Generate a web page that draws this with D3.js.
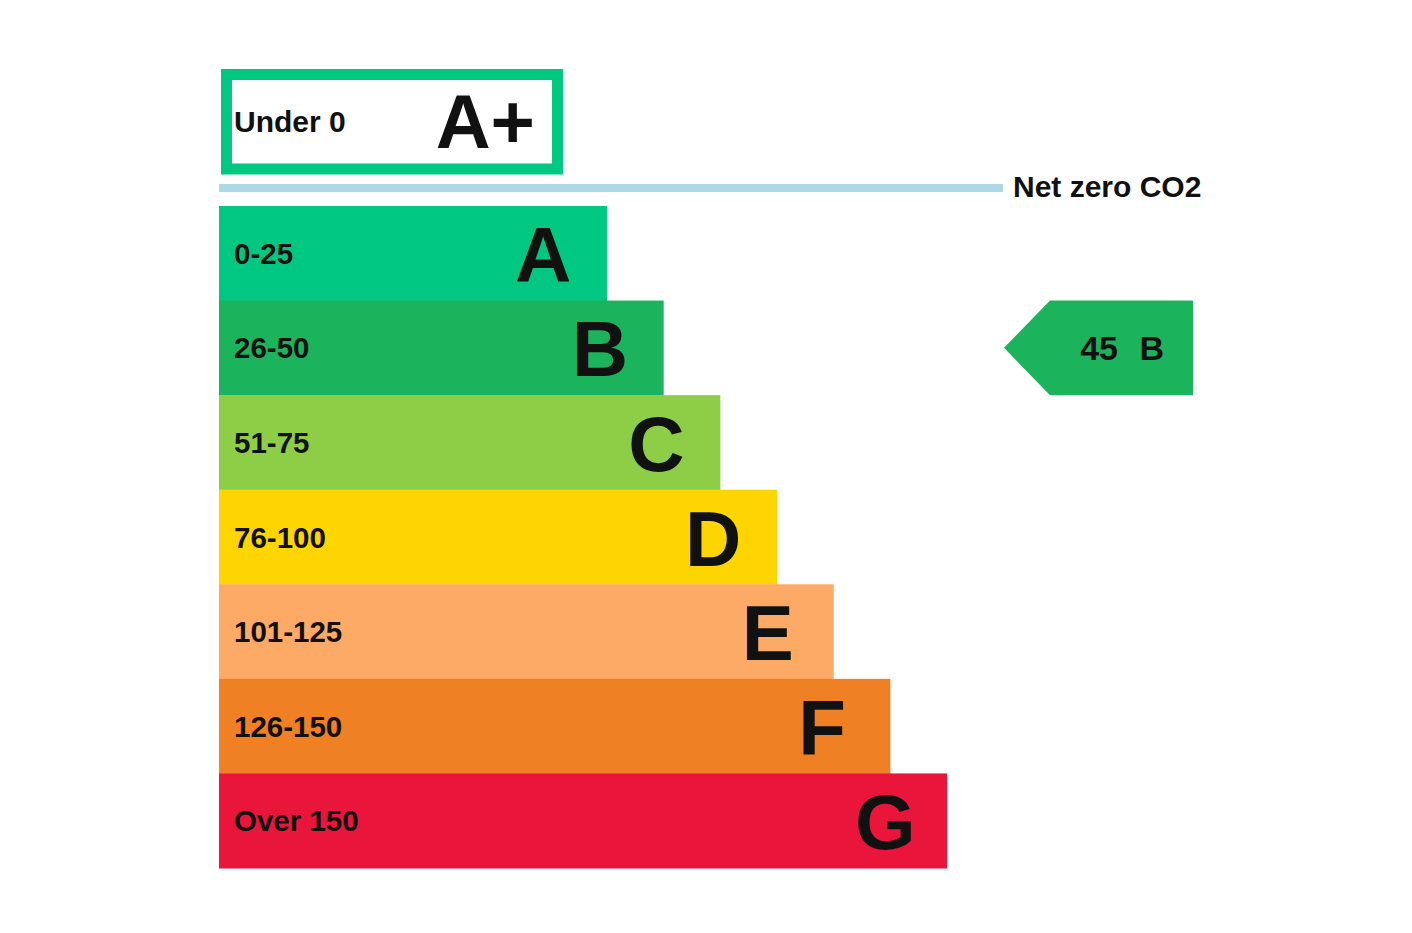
<html>
<head>
<title>EPC rating</title>
<script src="https://d3js.org/d3.v7.min.js"></script>
<style>
    body { margin: 0; background: #fff; }
    text { font-family: "Liberation Sans", Arial, sans-serif; font-weight: bold; fill: #111; }
</style>
</head>
<body>
<div id="chart"></div>
<script type="text/javascript">
    // Data ***********************
    var bands = ["A", "B", "C", "D", "E", "F", "G"];
    var ranges = ["0-25", "26-50", "51-75", "76-100", "101-125", "126-150", "Over 150"];
    var colours = ["#00c781", "#1bb35b", "#8dce46", "#ffd500", "#fcaa65", "#ef8023", "#e9153b"];
    var topBand = "A+";
    var topRange = "Under 0";
    var netZeroLabel = "Net zero CO2";
    var currentValue = 45;
    var currentBand = "B";

    // Layout ***********************
    var W = 1412, H = 933;
    var left = 219;

    var svg = d3.select("#chart").append("svg")
        .attr("width", W)
        .attr("height", H);

    // vertical position of the bands
    var y = d3.scaleBand().domain(bands).range([206, 868]).padding(0);
    // right edge of each bar grows with the band index
    var xRight = d3.scaleLinear().domain([0, bands.length - 1]).range([607, 947]);

    // A+ box
    var boxTop = 74.5, boxH = 94.5;
    svg.append("rect")
        .attr("x", 226.5)
        .attr("y", boxTop)
        .attr("width", 331)
        .attr("height", boxH)
        .attr("fill", "#fff")
        .attr("stroke", colours[0])
        .attr("stroke-width", 11);

    svg.append("text")
        .attr("x", 234)
        .attr("y", boxTop + boxH / 2 + 10)
        .style("font-size", "30px")
        .text(topRange);

    svg.append("text")
        .attr("x", 535)
        .attr("y", boxTop + boxH / 2 + 26)
        .attr("text-anchor", "end")
        .style("font-size", "76px")
        .text(topBand);

    // net zero line
    svg.append("rect")
        .attr("x", left)
        .attr("y", 184)
        .attr("width", 1003 - left)
        .attr("height", 8)
        .attr("fill", "#add8e6");

    svg.append("text")
        .attr("x", 1013)
        .attr("y", 197)
        .style("font-size", "30px")
        .text(netZeroLabel);

    // bars
    var g = svg.selectAll("g.band")
        .data(bands)
        .enter()
        .append("g")
        .attr("class", "band");

    g.append("rect")
        .attr("x", left)
        .attr("y", function (d) { return y(d); })
        .attr("width", function (d, i) { return xRight(i) - left; })
        .attr("height", y.bandwidth() + 0.5)
        .attr("fill", function (d, i) { return colours[i]; });

    g.append("text")
        .attr("x", 234)
        .attr("y", function (d) { return y(d) + y.bandwidth() / 2 + 10.5; })
        .style("font-size", "29.5px")
        .text(function (d, i) { return ranges[i]; });

    // big letters start a fixed distance in from the bar end
    g.append("text")
        .attr("x", function (d, i) { return xRight(i) - 92; })
        .attr("y", function (d) { return y(d) + y.bandwidth() / 2 + 28.5; })
        .style("font-size", "78px")
        .text(function (d) { return d; });

    // current rating arrow
    var ci = bands.indexOf(currentBand);
    var aTop = y(currentBand), aBot = aTop + y.bandwidth();
    var aMid = (aTop + aBot) / 2;
    var tipX = 1004, shoulderX = 1050, rightX = 1193;

    svg.append("path")
        .attr("d", "M" + tipX + "," + aMid +
            " L" + shoulderX + "," + aTop +
            " L" + rightX + "," + aTop +
            " L" + rightX + "," + aBot +
            " L" + shoulderX + "," + aBot + " Z")
        .attr("fill", colours[ci]);

    svg.append("text")
        .attr("x", 1118)
        .attr("y", aMid + 12)
        .attr("text-anchor", "end")
        .style("font-size", "34px")
        .text(currentValue);

    svg.append("text")
        .attr("x", 1164)
        .attr("y", aMid + 12)
        .attr("text-anchor", "end")
        .style("font-size", "34px")
        .text(currentBand);
</script>
</body>
</html>
